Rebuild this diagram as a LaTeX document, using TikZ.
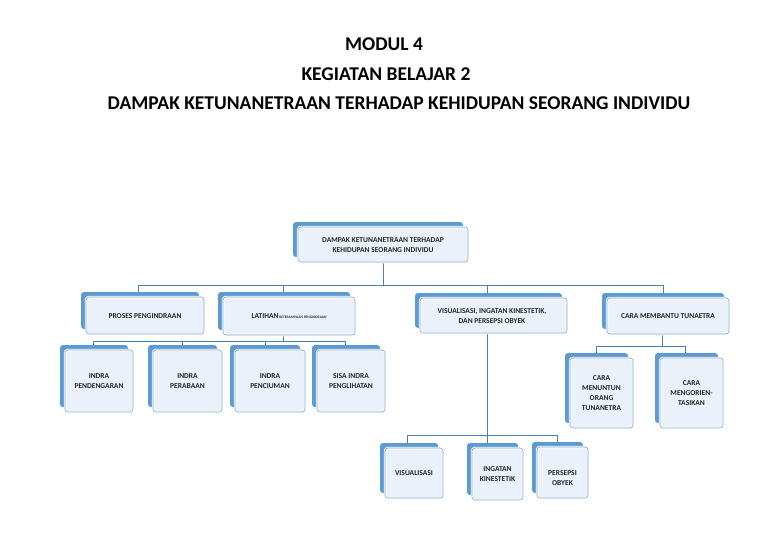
\documentclass[tikz,border=0pt]{standalone}
\usepackage{fontspec}
\setmainfont{Carlito}
\definecolor{bk}{HTML}{5B9BD5}
\definecolor{fr}{HTML}{EAF1FA}
\definecolor{ln}{HTML}{4A7EBB}
\tikzset{
  conn/.style={draw=ln, line width=0.9pt},
  lbl/.style={font=\bfseries\fontsize{7.5}{10}\selectfont, align=center, text=black!85},
  ttl/.style={font=\bfseries\fontsize{19.5}{22}\selectfont}
}
\newcommand{\mybox}[5]{% name, x1,y1,x2,y2
  \fill[bk, rounded corners=3pt] (#2-5,#3-5) rectangle (#4-5,#5-5);
  \draw[white, line width=2.5pt, fill=fr, rounded corners=3pt] (#2,#3) rectangle (#4,#5);
  \draw[bk!80!black!70, line width=0.6pt, rounded corners=3pt] (#2,#3) rectangle (#4,#5);
  \coordinate (#1) at ({(#2+#4)/2},{(#3+#5)/2});
}
\begin{document}
\begin{tikzpicture}[x=1pt,y=-1pt]
\useasboundingbox[fill=white] (0,0) rectangle (768,543);
\node[ttl] (t1) at (384,44) {MODUL 4};
\node[ttl] (t2) at (386,74) {KEGIATAN BELAJAR 2};
\node[ttl] (t3) at (399,103) {DAMPAK KETUNANETRAAN TERHADAP KEHIDUPAN SEORANG INDIVIDU};
% connectors (under boxes)
\coordinate (b1l) at (138,285); \coordinate (b1r) at (663,285);
\coordinate (b2l) at (93,341); \coordinate (b2r) at (345,341);
\coordinate (b3l) at (407,435); \coordinate (b3r) at (557,435);
\coordinate (b4l) at (596,346); \coordinate (b4r) at (685,346);
\draw[conn] (383,262) -- (383,285);
\draw[conn] (b1l) -- (b1r);
\foreach \x in {138,283,487,663} \draw[conn] (\x,285) -- (\x,298);
\draw[conn] (283,335) -- (283,341);
\draw[conn] (b2l) -- (b2r);
\foreach \x in {93,182,265,345} \draw[conn] (\x,341) -- (\x,350);
\draw[conn] (487,333) -- (487,435);
\draw[conn] (b3l) -- (b3r);
\foreach \x in {407,487,557} \draw[conn] (\x,435) -- (\x,447);
\draw[conn] (662,334) -- (662,346);
\draw[conn] (b4l) -- (b4r);
\foreach \x in {596,685} \draw[conn] (\x,346) -- (\x,358);
% boxes
\mybox{top}{298}{227}{468}{262}
\node[lbl] (ttop) at (383,245) {DAMPAK KETUNANETRAAN TERHADAP\\KEHIDUPAN SEORANG INDIVIDU};
\mybox{p}{86}{297}{204}{334}
\node[lbl] (tp) at (145,316) {PROSES PENGINDRAAN};
\mybox{l}{223}{297}{355}{335}
\node[lbl] (tl) at (289,316) {LATIHAN{\fontsize{3.6}{4}\selectfont\ KETERAMPILAN PENGINDRAAN}};
\mybox{v}{420}{298}{567}{333}
\node[lbl] (tv) at (492,316) {VISUALISASI, INGATAN KINESTETIK,\\DAN PERSEPSI OBYEK};
\mybox{c}{607}{298}{729}{334}
\node[lbl] (tc) at (668,316) {CARA MEMBANTU TUNAETRA};
\mybox{i1}{65}{350}{133}{412}
\node[lbl] at (i1) {INDRA\\PENDENGARAN};
\mybox{i2}{153}{350}{222}{412}
\node[lbl] at (i2) {INDRA\\PERABAAN};
\mybox{i3}{235}{350}{305}{412}
\node[lbl] at (i3) {INDRA\\PENCIUMAN};
\mybox{i4}{317}{350}{385}{412}
\node[lbl] at (i4) {SISA INDRA\\PENGLIHATAN};
\mybox{c1}{570}{358}{633}{428}
\node[lbl] at (c1) {CARA\\MENUNTUN\\ORANG\\TUNANETRA};
\mybox{c2}{660}{358}{723}{428}
\node[lbl] at (c2) {CARA\\MENGORIEN-\\TASIKAN};
\mybox{v1}{385}{448}{443}{498}
\node[lbl] at (v1) {VISUALISASI};
\mybox{v2}{472}{448}{523}{500}
\node[lbl] at (v2) {INGATAN\\KINESTETIK};
\mybox{v3}{537}{447}{588}{498}
\node[lbl] at ([yshift=-6]v3) {PERSEPSI\\OBYEK};
\end{tikzpicture}
\end{document}
